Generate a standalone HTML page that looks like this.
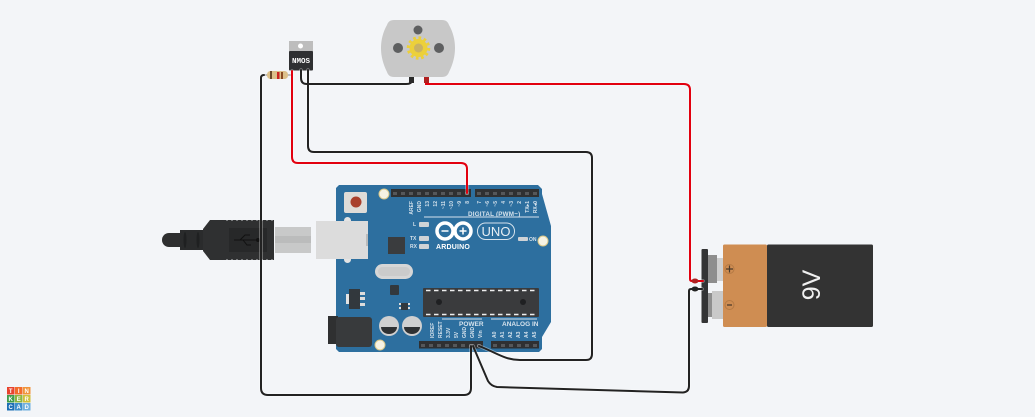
<!DOCTYPE html>
<html><head><meta charset="utf-8"><style>
html,body{margin:0;padding:0;background:#f3f5f8;width:1035px;height:417px;overflow:hidden}
svg{display:block}
text{font-family:"Liberation Sans",sans-serif}
</style></head><body>
<svg width="1035" height="417" viewBox="0 0 1035 417" xmlns="http://www.w3.org/2000/svg">
<rect width="1035" height="417" fill="#f3f5f8"/>

<!-- USB cable -->
<rect x="275" y="227" width="36" height="26" fill="#c8c9c9"/>
<rect x="275" y="236" width="36" height="7" fill="#bbbcbc"/>
<path d="M180 233H169a7 7 0 0 0 0 14H180Z" fill="#2e2f30"/>
<rect x="180" y="230" width="23" height="20" fill="#2a2b2c"/>
<ellipse cx="185" cy="240" rx="1.500" ry="8" fill="#1f2021"/><ellipse cx="198" cy="240" rx="1.500" ry="8" fill="#1f2021"/>
<path d="M203 229L210 220H274V260H210L203 251Z" fill="#2f3031"/>
<path d="M226 220H274M226 260H274" stroke="#f3f5f8" stroke-width=".8" stroke-dasharray="2 3"/>
<rect x="229" y="228" width="38" height="24" fill="#272829"/>
<path d="M234 240H259" stroke="#111" stroke-width="1"/><circle cx="258" cy="240" r="2" fill="#111"/><path d="M240 240L245 235H250M243 240L247 245H251" stroke="#111" fill="none"/>

<!-- Arduino board -->
<path d="M339 185H538L542 189V194L551 226V322L542 337V349L539 352H339L336 349V188Z" fill="#2d6f9f"/>
<rect x="344" y="217" width="7" height="46" rx="3.500" fill="#e4e4e4"/>
<rect x="316" y="221" width="52" height="38" fill="#dcdcdc"/>
<rect x="366" y="234" width="2" height="12" fill="#bbb"/>

<!-- reset -->
<rect x="344" y="192" width="23" height="21" rx="2" fill="#dfdcd8"/>
<circle cx="356" cy="202" r="5.500" fill="#a9402c"/>
<!-- mounting holes -->
<circle cx="384" cy="194" r="5" fill="#f6f3e4" stroke="#d9c788" stroke-width="1"/>
<circle cx="543" cy="241" r="5" fill="#f6f3e4" stroke="#d9c788" stroke-width="1"/>
<circle cx="380" cy="345" r="5" fill="#f6f3e4" stroke="#d9c788" stroke-width="1"/>

<!-- headers -->
<rect x="391" y="189" width="80" height="8" fill="#2f3032"/>
<rect x="475" y="189" width="64" height="8" fill="#2f3032"/>
<rect x="419" y="341" width="64" height="7.500" fill="#2f3032"/>
<rect x="491" y="341" width="48" height="7.500" fill="#2f3032"/>
<g fill="#55575a">
<path d="M393 192h4v3h-4zM401 192h4v3h-4zM409 192h4v3h-4zM417 192h4v3h-4zM425 192h4v3h-4zM433 192h4v3h-4zM441 192h4v3h-4zM449 192h4v3h-4zM457 192h4v3h-4zM465 192h4v3h-4z"/>
<path d="M477 192h4v3h-4zM485 192h4v3h-4zM493 192h4v3h-4zM501 192h4v3h-4zM509 192h4v3h-4zM517 192h4v3h-4zM525 192h4v3h-4zM533 192h4v3h-4z"/>
<path d="M421 344h4v3h-4zM429 344h4v3h-4zM437 344h4v3h-4zM445 344h4v3h-4zM453 344h4v3h-4zM461 344h4v3h-4zM469 344h4v3h-4zM477 344h4v3h-4z"/>
<path d="M493 344h4v3h-4zM501 344h4v3h-4zM509 344h4v3h-4zM517 344h4v3h-4zM525 344h4v3h-4zM533 344h4v3h-4z"/>
</g>

<!-- pin labels top -->
<g fill="#d5e2ec" font-size="5" font-weight="bold">
<g text-anchor="end">
<text transform="translate(413,201) rotate(-90)">AREF</text>
<text transform="translate(421,201) rotate(-90)">GND</text>
<text transform="translate(429,201) rotate(-90)">13</text>
<text transform="translate(437,201) rotate(-90)">12</text>
<text transform="translate(445,201) rotate(-90)">~11</text>
<text transform="translate(453,201) rotate(-90)">~10</text>
<text transform="translate(461,201) rotate(-90)">~9</text>
<text transform="translate(469,201) rotate(-90)">8</text>
<text transform="translate(481,201) rotate(-90)">7</text>
<text transform="translate(489,201) rotate(-90)">~6</text>
<text transform="translate(497,201) rotate(-90)">~5</text>
<text transform="translate(505,201) rotate(-90)">4</text>
<text transform="translate(513,201) rotate(-90)">~3</text>
<text transform="translate(521,201) rotate(-90)">2</text>
<text transform="translate(529,201) rotate(-90)">TX▸1</text>
<text transform="translate(537,201) rotate(-90)">RX◂0</text>
</g>
<text x="468" y="216" font-size="6.300" letter-spacing=".2">DIGITAL (PWM~)</text>
<text transform="translate(434,338) rotate(-90)">IOREF</text>
<text transform="translate(442,338) rotate(-90)">RESET</text>
<text transform="translate(450,338) rotate(-90)">3.3V</text>
<text transform="translate(458,338) rotate(-90)">5V</text>
<text transform="translate(466,338) rotate(-90)">GND</text>
<text transform="translate(474,338) rotate(-90)">GND</text>
<text transform="translate(482,338) rotate(-90)">Vin</text>
<text transform="translate(496,338) rotate(-90)">A0</text>
<text transform="translate(504,338) rotate(-90)">A1</text>
<text transform="translate(512,338) rotate(-90)">A2</text>
<text transform="translate(520,338) rotate(-90)">A3</text>
<text transform="translate(528,338) rotate(-90)">A4</text>
<text transform="translate(536,338) rotate(-90)">A5</text>
<text x="459" y="326" font-size="6.500">POWER</text>
<text x="502" y="326" font-size="6.500">ANALOG IN</text>
<text x="413" y="226" font-size="5">L</text>
<text x="410" y="240" font-size="5">TX</text>
<text x="410" y="248" font-size="5">RX</text>
<text x="529" y="241" font-size="5">ON</text>
</g>
<path d="M424 217H539M442 319H482M491 319H537" stroke="#d5e2ec" stroke-width="1" fill="none"/>
<g fill="#cfd3d6">
<rect x="419" y="222" width="10" height="5" rx="1"/>
<rect x="419" y="236" width="10" height="5" rx="1"/>
<rect x="419" y="244" width="10" height="5" rx="1"/>
<rect x="518" y="237" width="10" height="4" rx="1"/>
</g>

<!-- logo -->
<circle cx="445" cy="231" r="8" fill="none" stroke="#fff" stroke-width="3.500"/>
<circle cx="463" cy="231" r="8" fill="none" stroke="#fff" stroke-width="3.500"/>
<path d="M441.500 231h7M459.500 231h7M463 227.500v7" stroke="#fff" stroke-width="1.500"/>
<text x="436" y="249" font-size="7" font-weight="bold" fill="#fff" letter-spacing=".2">ARDUINO</text>
<rect x="477.500" y="223" width="37" height="16.500" rx="8" fill="none" stroke="#d5e2ec" stroke-width="1"/>
<text x="496" y="236" font-size="13" fill="#e8eff4" text-anchor="middle">UNO</text>

<!-- small chips -->
<rect x="388" y="237" width="17" height="17" fill="#3a3c3e"/>
<rect x="390" y="285" width="9" height="10" rx="1" fill="#32383d"/>
<rect x="375" y="264" width="38" height="15" rx="7.500" fill="#d6d6d6"/>
<rect x="378" y="267" width="32" height="9" rx="4.500" fill="#cbcbcb"/>
<rect x="349" y="289" width="11" height="20" fill="#32383d"/>
<rect x="346" y="294" width="3" height="10" fill="#e3e3e3"/>
<path d="M360 292h5v3h-5zM360 297h5v3h-5zM360 303h5v3h-5z" fill="#dcdcdc"/>
<rect x="401" y="303" width="7" height="7" fill="#32383d"/>
<path d="M399 303h2v2h-2zM399 307h2v2h-2zM408 303h2v2h-2zM408 307h2v2h-2z" fill="#ddd"/>

<!-- ATmega -->
<rect x="423" y="288" width="116" height="29" rx="1" fill="#3a3b3d"/>
<path d="M426 290.500H536M426 314.500H536" stroke="#eee" stroke-width="1.500" stroke-dasharray="4.500 3.500"/>
<circle cx="439" cy="302" r="3" fill="#1f2022"/><circle cx="523" cy="302" r="3" fill="#1f2022"/>

<!-- Jack -->
<rect x="328" y="316" width="10" height="28" fill="#2f3031"/>
<rect x="336" y="317" width="36" height="30" rx="3" fill="#383a3c"/>

<!-- caps -->
<circle cx="389" cy="326" r="10" fill="#d0d0d0"/><path d="M381 327H397A8 7 0 0 1 381 327Z" fill="#2f3133"/>
<circle cx="412" cy="326" r="10" fill="#d0d0d0"/><path d="M404 327H420A8 7 0 0 1 404 327Z" fill="#2f3133"/>

<!-- Motor -->
<path d="M394 20H442C446 20 448 22 449 25C453 32 455 40 455 48C455 56 453 64 449 72C448 75 446 77 442 77H394C390 77 388 75 387 72C383 64 381 56 381 48C381 40 383 32 387 25C388 22 390 20 394 20Z" fill="#c8c8c8"/>
<circle cx="418" cy="30" r="4.500" fill="#5e5f60"/>
<circle cx="398" cy="48" r="5" fill="#5e5f60"/>
<circle cx="439" cy="48" r="5" fill="#5e5f60"/>
<circle cx="418.500" cy="48" r="9" fill="#ecd03a"/>
<circle cx="418.500" cy="48" r="10" fill="none" stroke="#ecd03a" stroke-width="3.500" stroke-dasharray="2.600 2.600"/>
<circle cx="418.500" cy="48" r="4.500" fill="#c9b263"/>

<!-- NMOS -->
<rect x="289" y="41" width="24" height="12" fill="#bdbdbd"/>
<circle cx="300.500" cy="46" r="2.500" fill="#fff"/>
<rect x="289" y="51" width="24" height="19.500" rx="1" fill="#2f3032"/>
<text x="301" y="63" font-size="7.500" fill="#fff" text-anchor="middle" style="font-family:'Liberation Mono',monospace" font-weight="bold">NMOS</text>

<!-- Resistor -->
<path d="M262 75H292" stroke="#aaa" stroke-width="1.500"/>
<rect x="267" y="71" width="21" height="8" rx="3.500" fill="#dcc08a"/>
<rect x="270" y="71" width="2" height="8" fill="#6b4a2a"/>
<rect x="277" y="72" width="2.500" height="7" fill="#c22"/>
<rect x="281" y="72" width="2" height="7" fill="#8a4a22"/>

<!-- Battery -->
<rect x="723" y="244.500" width="44" height="82.500" rx="1.500" fill="#cf8d52"/>
<rect x="767" y="244.500" width="106" height="82.500" rx="1.500" fill="#333333"/>
<rect x="708" y="255" width="9" height="28" fill="#8e8e8e"/>
<rect x="717" y="258" width="6" height="23" fill="#cfcfcf"/>
<rect x="708" y="293" width="4" height="24" fill="#8e8e8e"/>
<rect x="712" y="291" width="11" height="28" fill="#c9c9c9"/>
<rect x="701.500" y="249" width="6.500" height="74" rx="1" fill="#333435"/>
<circle cx="729.500" cy="269" r="4.500" fill="none" stroke="#b57a44"/>
<circle cx="729.500" cy="305" r="4.500" fill="none" stroke="#b57a44"/>
<path d="M726 269h7M729.500 265.500v7M727 305h5" stroke="#4a3a2a" stroke-width="1.200"/>
<text transform="translate(820,285) rotate(-90)" font-size="25" fill="#f0f0f0" text-anchor="middle">9V</text>

<!-- Wires -->
<g fill="none" stroke="#fff" stroke-opacity=".4" stroke-width="3.500" stroke-linecap="round">
<path d="M292 71V157Q292 163 298 163H461Q467 163 467 169V193"/>
<path d="M426 84H684Q690 84 690 90V279Q690 281 692 281H703"/>
<path d="M301 70V78Q301 84 307 84H406Q412 84 412 82"/>
<path d="M308 70V146Q308 152 314 152H586Q592 152 592 158V354Q592 360 586 360H520C505 360 497 353 479 346"/>
<path d="M702 289H691Q689 289 689 291V386Q689 392 683 392.500L497 387Q491 386 488 381L473 346"/>
<path d="M471 346V388Q471 395 464 395H268Q261 395 261 388V78Q261 75 264 75"/>
</g>
<g fill="none" stroke-width="2" stroke-linecap="round">
<path d="M292 71V157Q292 163 298 163H461Q467 163 467 169V193" stroke="#e2000f"/>
<path d="M426 80V84H684Q690 84 690 90V279Q690 281 692 281H703" stroke="#e2000f"/>
<path d="M301 70V78Q301 84 307 84H406Q412 84 412 80" stroke="#222"/>
<path d="M308 70V146Q308 152 314 152H586Q592 152 592 158V354Q592 360 586 360H520C505 360 497 353 479 346" stroke="#222"/>
<path d="M702 289H691Q689 289 689 291V386Q689 392 683 392.500L497 387Q491 386 488 381L473 346" stroke="#222"/>
<path d="M471 346V388Q471 395 464 395H268Q261 395 261 388V78Q261 75 264 75" stroke="#222"/>
</g>
<ellipse cx="695" cy="281" rx="3.500" ry="2.500" fill="#b02020"/>
<ellipse cx="695" cy="289" rx="3.500" ry="2.500" fill="#222"/>
<rect x="409" y="77" width="5" height="6" fill="#2a2a2a"/>
<rect x="424" y="77" width="5" height="6" fill="#b02020"/>

<!-- Tinkercad logo -->
<g>
<rect x="7" y="387" width="7.500" height="7.500" fill="#e8432e"/><rect x="15" y="387" width="7.500" height="7.500" fill="#f26b2a"/><rect x="23" y="387" width="7.500" height="7.500" fill="#f0943b"/>
<rect x="7" y="395" width="7.500" height="7.500" fill="#3f9d4a"/><rect x="15" y="395" width="7.500" height="7.500" fill="#8cb53f"/><rect x="23" y="395" width="7.500" height="7.500" fill="#cfc03a"/>
<rect x="7" y="403" width="7.500" height="7.500" fill="#1c6fb5"/><rect x="15" y="403" width="7.500" height="7.500" fill="#3d8fcc"/><rect x="23" y="403" width="7.500" height="7.500" fill="#6fb0de"/>
<g fill="#fff" font-size="6" font-weight="bold" text-anchor="middle">
<text x="10.700" y="393">T</text><text x="18.700" y="393">I</text><text x="26.700" y="393">N</text>
<text x="10.700" y="401">K</text><text x="18.700" y="401">E</text><text x="26.700" y="401">R</text>
<text x="10.700" y="409">C</text><text x="18.700" y="409">A</text><text x="26.700" y="409">D</text>
</g>
</g>
</svg>
</body></html>
